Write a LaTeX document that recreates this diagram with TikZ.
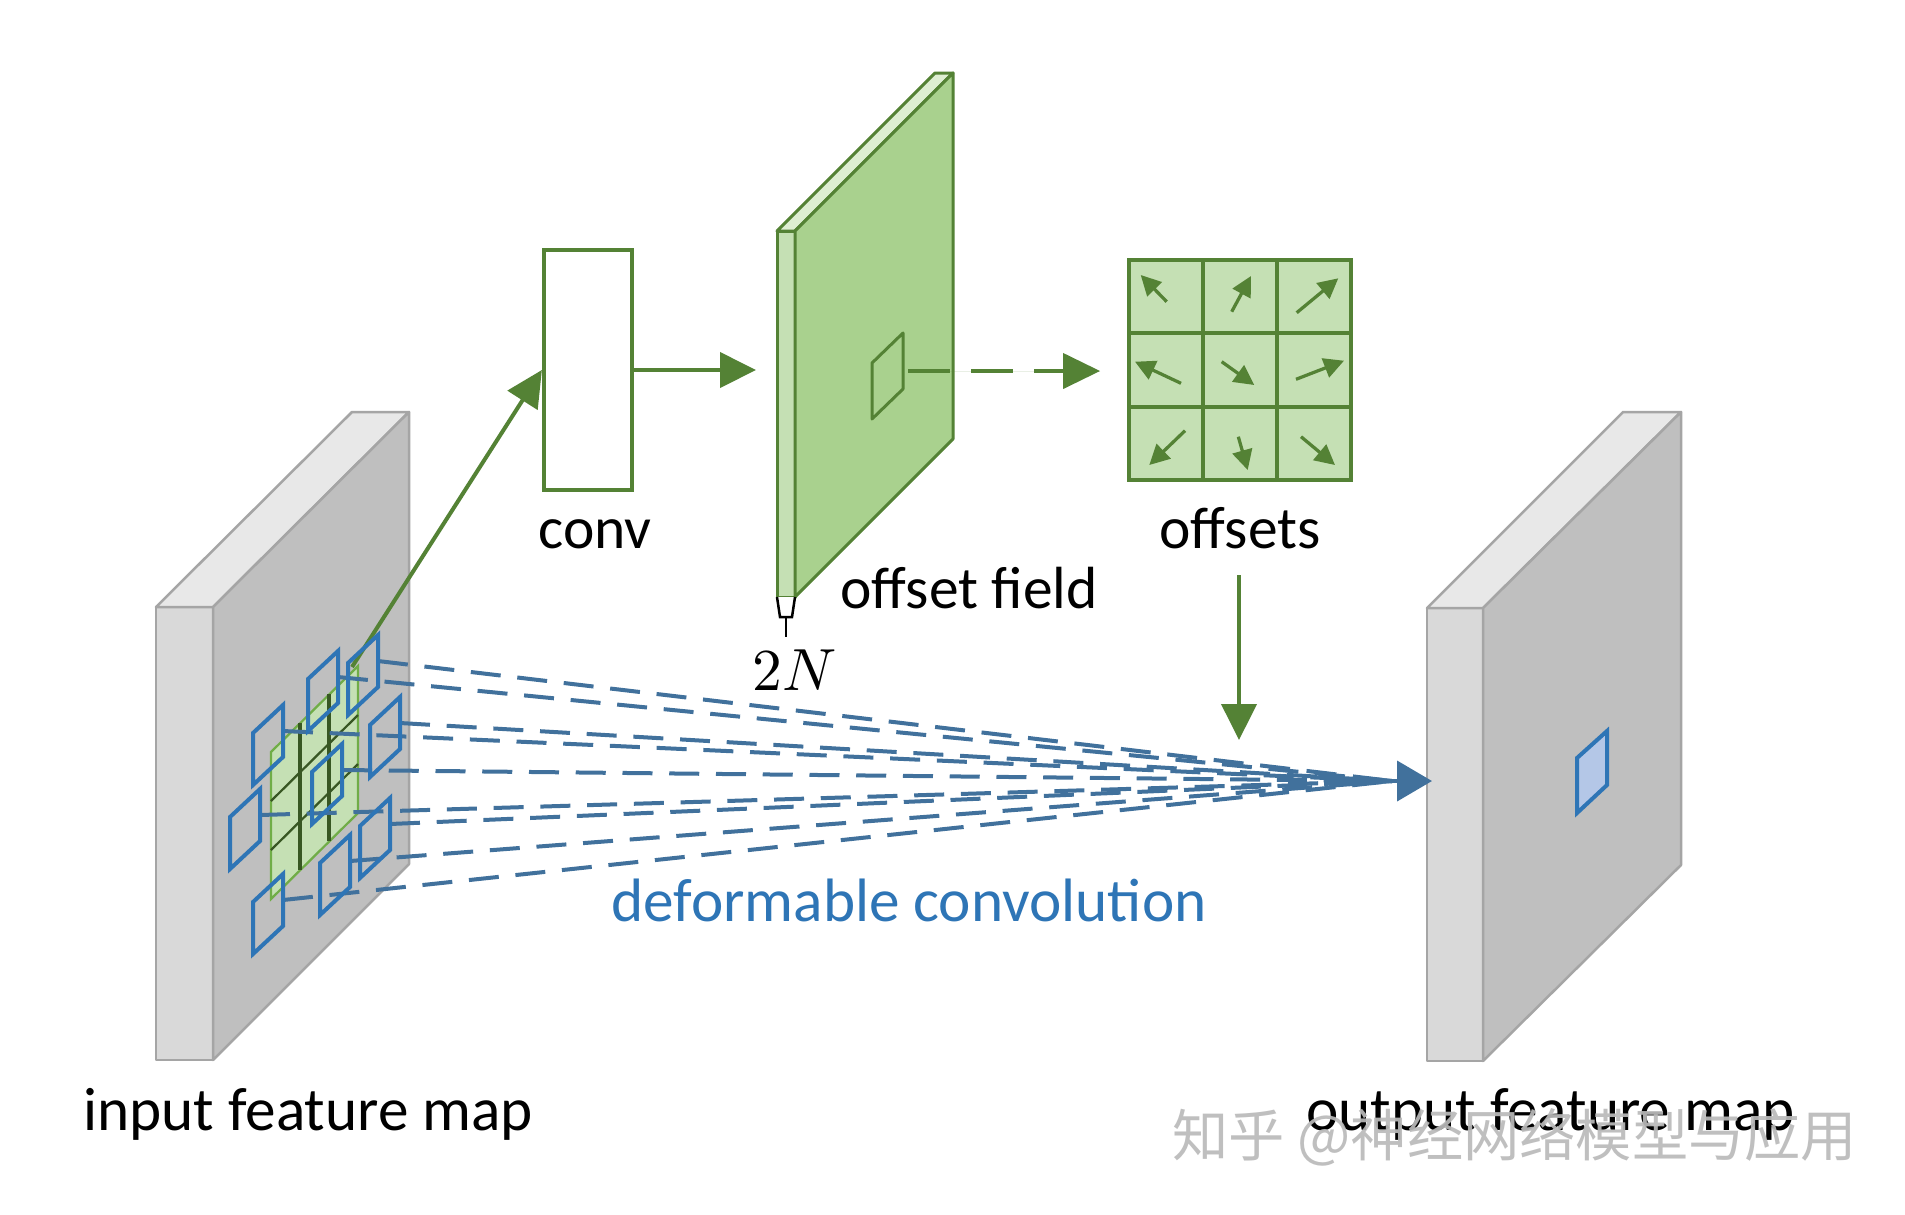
\documentclass[tikz,border=0pt]{standalone}
\usepackage[no-math]{fontspec}
\usepackage{graphicx}
\setmainfont{Carlito}
\newfontfamily\cjkfont{Noto Sans CJK SC}
\usetikzlibrary{arrows.meta}
\definecolor{gfront}{RGB}{217,217,217}
\definecolor{gtop}{RGB}{232,232,232}
\definecolor{gface}{RGB}{191,191,191}
\definecolor{grayline}{RGB}{165,165,165}
\definecolor{gdark}{RGB}{84,130,53}
\definecolor{gcell}{RGB}{197,224,180}
\definecolor{gfacec}{RGB}{169,209,142}
\definecolor{gtopc}{RGB}{222,238,210}
\definecolor{gpatchline}{RGB}{112,173,71}
\definecolor{gpatchin}{RGB}{56,87,35}
\definecolor{bsqc}{RGB}{46,117,182}
\definecolor{dblue}{RGB}{65,113,156}
\definecolor{tblue}{RGB}{46,117,182}
\definecolor{lblue}{RGB}{180,199,231}
\begin{document}
\begin{tikzpicture}[x=0.4pt,y=-0.4pt,
  lbl/.style={inner sep=0pt, font=\fontsize{23.8}{28.6}\selectfont},
  maplbl/.style={inner sep=0pt, font=\fontsize{24.5}{29.4}\selectfont},
  slabedge/.style={draw=grayline, line width=1pt, line join=round},
  greenedge/.style={draw=gdark, line width=1.2pt, line join=round},
  garrow/.style={draw=gdark, fill=gdark, line width=1.6pt, -{Triangle[length=14.4pt,width=14pt]}},
  sarrow/.style={draw=gdark, fill=gdark, line width=1.3pt, -{Triangle[length=8pt,width=8pt]}},
  dline/.style={draw=dblue, line width=1.6pt, dash pattern=on 12pt off 6.7pt},
  bsq/.style={draw=bsqc, line width=1.6pt, line join=miter}
]
\useasboundingbox[fill=white] (0,0) rectangle (1905,1214);

% ---------- input feature map ----------
\filldraw[slabedge, fill=gfront] (156,607) -- (213,607) -- (213,1060) -- (156,1060) -- cycle;
\filldraw[slabedge, fill=gtop] (156,607) -- (352,412) -- (409,412) -- (213,607) -- cycle;
\filldraw[slabedge, fill=gface] (213,607) -- (409,412) -- (409,864) -- (213,1060) -- cycle;

% green 3x3 patch
\filldraw[draw=gpatchline, fill=gcell, line width=0.9pt] (271,752) -- (358,666) -- (358,813) -- (271,899) -- cycle;
\draw[gpatchin, line width=1.6pt] (300,723) -- (300,870) (329,694) -- (329,841);
\draw[gpatchin, line width=0.9pt] (271,801) -- (358,715) (271,850) -- (358,764);

% green connector input -> conv
\coordinate (gstart) at (352,667);
\node (conv) [draw=gdark, line width=1.6pt, minimum width=35.3pt, minimum height=96pt, inner sep=0pt, fill=white] at (588,370) {};
\draw[garrow] (gstart) -- (conv.west);

% sampling squares: right-edge midpoints
\coordinate (join) at (1392,781);
\foreach \n/\x/\y in {C/378/661, B/338/677, F/400/723, A/283/731, E/342/770, D/260/815, I/390/824, H/350/861, G/283/900}{
  \coordinate (sq\n) at (\x,\y);
}
\foreach \n in {A,B,C,D,E,F,G,H,I}{
  \draw[dline] (sq\n) -- (join);
}
\foreach \n in {A,B,C,D,E,F,G,H,I}{
  \draw[bsq] (sq\n) ++(0,-26) -- ++(0,52) -- ++(-30,28) -- ++(0,-52) -- cycle;
}

% ---------- output feature map ----------
\filldraw[slabedge, fill=gfront] (1427,608) -- (1483,608) -- (1483,1061) -- (1427,1061) -- cycle;
\filldraw[slabedge, fill=gtop] (1427,608) -- (1623,412) -- (1681,412) -- (1483,608) -- cycle;
\filldraw[slabedge, fill=gface] (1483,608) -- (1681,412) -- (1681,865) -- (1483,1061) -- cycle;
\filldraw[fill=lblue, draw=bsqc, line width=1.6pt] (1577,758) -- (1607,731) -- (1607,785) -- (1577,813) -- cycle;
\coordinate (outtip) at (1432,781);
\draw[draw=dblue, fill=dblue, line width=1.6pt, -{Triangle[length=14pt,width=16pt]}] (join) -- (outtip);

% ---------- conv ----------
\node[lbl, anchor=base] (convl) at (595,548) {conv};

% ---------- offset field ----------
\filldraw[greenedge, fill=gcell] (777,231) -- (795,231) -- (795,597) -- (777,597) -- cycle;
\filldraw[greenedge, fill=gtopc] (777,231) -- (935,73) -- (953,73) -- (795,231) -- cycle;
\filldraw[greenedge, fill=gfacec] (795,231) -- (953,73) -- (953,439) -- (795,597) -- cycle;
\draw[greenedge] (872,363) -- (903,333) -- (903,389) -- (872,419) -- cycle;
\coordinate (ofin) at (756,370);
\draw[garrow] (conv.east) -- (ofin);

% 2N bracket
\draw[black, line width=1pt, fill=white] (777,597) -- (780,617) -- (792,617) -- (795,597);
\coordinate (brk) at (786,617);
\coordinate (brkend) at (786,637);
\draw[black, line width=1pt] (brk) -- (brkend);
\node[inner sep=0pt, anchor=base] (twoN) at (795,690) {\scalebox{2.38}{$2N$}};
\node[lbl, anchor=base west] (ofl) at (840,608) {offset field};

% ---------- offsets grid ----------
\node (grid) [draw=gdark, line width=1.6pt, fill=gcell, minimum width=88.7pt, minimum height=87.8pt, inner sep=0pt] at (1240,370) {};
\draw[gdark, line width=1.6pt] (1203,260) -- (1203,480) (1277,260) -- (1277,480)
  (1129,333) -- (1351,333) (1129,407) -- (1351,407);
\draw[sarrow] (1166.7,301.7) -- (1140.7,275);
\draw[sarrow] (1231.7,311.7) -- (1251,276);
\draw[sarrow] (1296.7,312.7) -- (1338.3,278.3);
\draw[sarrow] (1181,383.3) -- (1135,361.7);
\draw[sarrow] (1221.7,361.7) -- (1254.3,385);
\draw[sarrow] (1296,379.3) -- (1344,360.7);
\draw[sarrow] (1185,430.7) -- (1149.3,465);
\draw[sarrow] (1238.3,436.7) -- (1247.7,470);
\draw[sarrow] (1301,436.7) -- (1335,465);
\node[lbl, anchor=base] (offl) at (1240,548) {offsets};

\coordinate (dstart) at (908,371);
\draw[draw=gdark, fill=gdark, line width=1.6pt, dash pattern=on 16.8pt off 8.4pt, shorten >=10.8pt, -{Triangle[length=14.8pt,width=14pt]}] (dstart) -- (grid.west |- dstart);

\coordinate (vstart) at (1239,575);
\coordinate (vend) at (1239,740);
\draw[garrow] (vstart) -- (vend);

% ---------- labels ----------
\node[maplbl, anchor=base west, text=tblue] (defl) at (611,921) {deformable convolution};
\node[maplbl, anchor=base west] (inl) at (83,1130) {input feature map};
\node[maplbl, anchor=base west] (outl) at (1306,1130) {output feature map};
\node[anchor=base west, inner sep=0pt, font=\cjkfont\fontsize{22.5}{27}\selectfont, text=black!27, opacity=0.92] (wm) at (1172,1156) {知乎 @神经网络模型与应用};
\end{tikzpicture}
\end{document}
